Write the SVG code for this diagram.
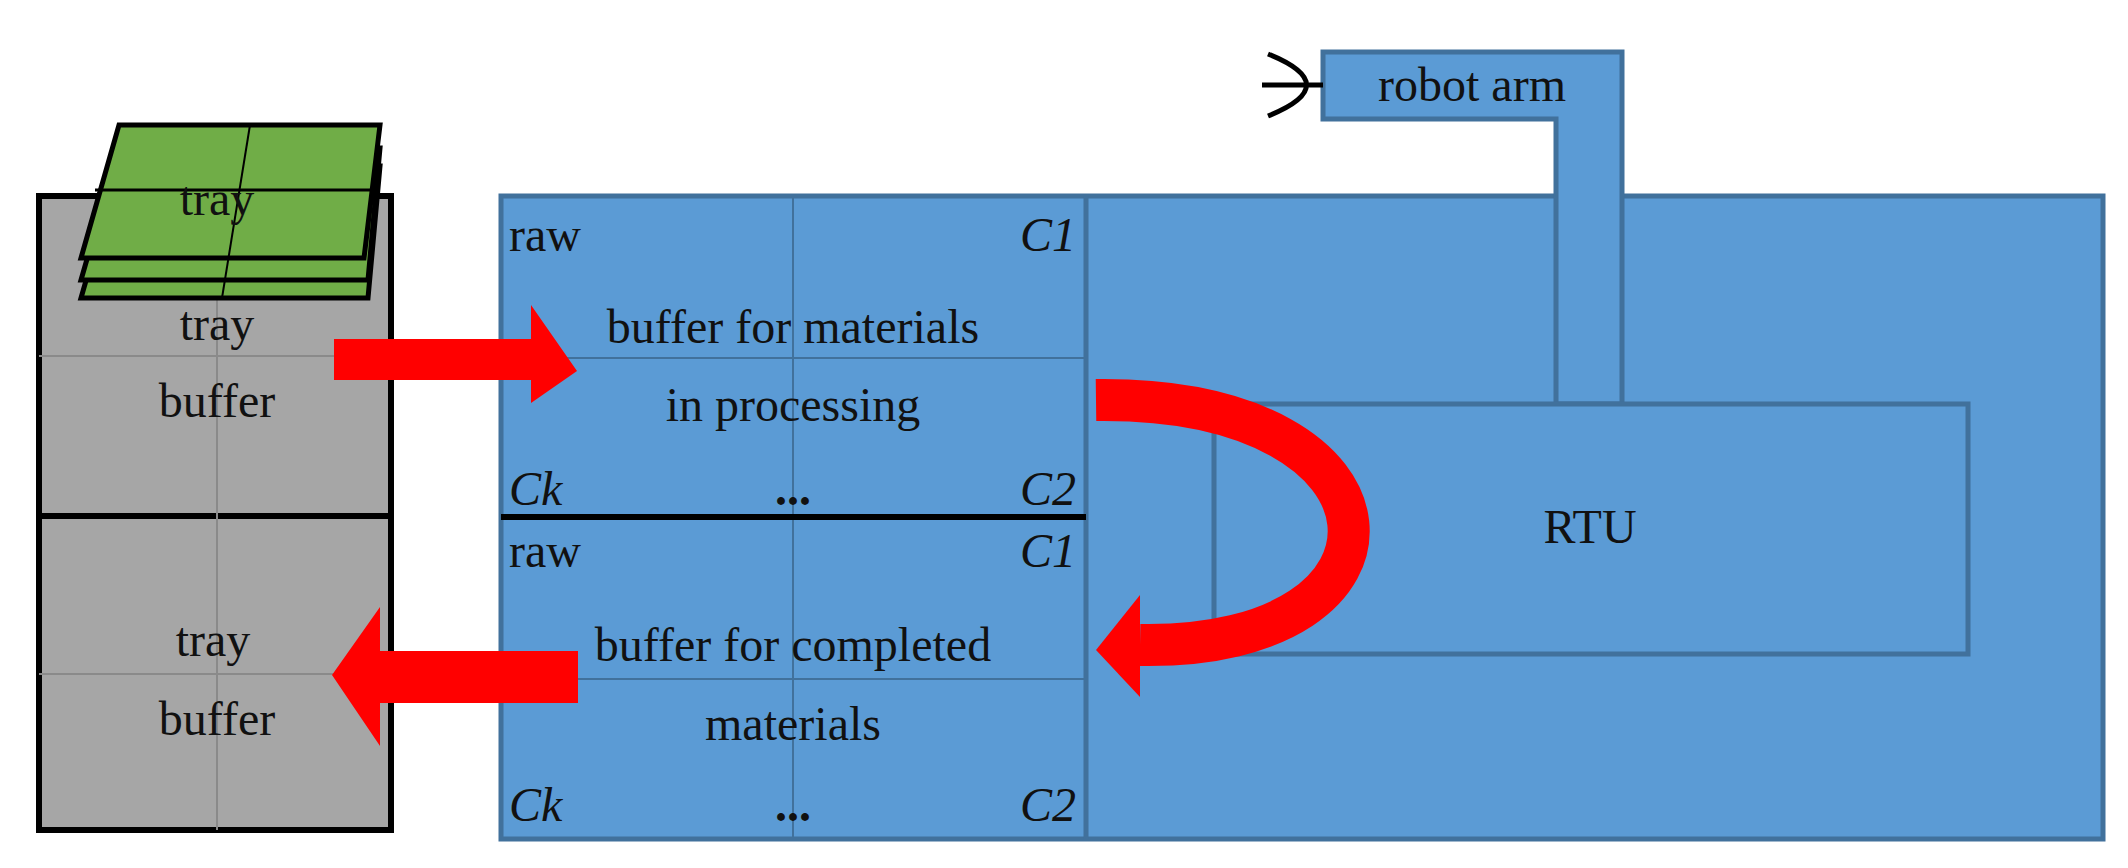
<svg xmlns="http://www.w3.org/2000/svg" width="2128" height="868" viewBox="0 0 2128 868">
<style>
.t{font-family:"Liberation Serif",serif;font-size:48px;fill:#111}
.i{font-style:italic}
.blue{fill:#5b9bd5;stroke:#41719c;stroke-width:5}
.thin{stroke:#8a8a8a;stroke-width:2}
.bthin{stroke:#41719c;stroke-width:2}
.tray{fill:#70ad47;stroke:#000;stroke-width:5}
.red{fill:#ff0000}
</style>
<rect width="2128" height="868" fill="#fff"/>
<g id="tray-buffer">
<rect x="39" y="196" width="352" height="634" fill="#a6a6a6" stroke="#000" stroke-width="6"/>
<line x1="39" y1="516" x2="391" y2="516" stroke="#000" stroke-width="6"/>
<line class="thin" x1="217" y1="196" x2="217" y2="830"/>
<line class="thin" x1="39" y1="356" x2="391" y2="356"/>
<line class="thin" x1="39" y1="674" x2="391" y2="674"/>
<text class="t" x="217" y="340" text-anchor="middle">tray</text>
<text class="t" x="217" y="417" text-anchor="middle">buffer</text>
<text class="t" x="213" y="656" text-anchor="middle">tray</text>
<text class="t" x="217" y="735" text-anchor="middle">buffer</text>
</g>
<g id="trays">
<polygon class="tray" points="119,166 380,166 368,298 81,298"/>
<polygon class="tray" points="119,148 380,148 368,280 81,280"/>
<polygon class="tray" points="119,125 380,125 364,258 81,258"/>
<line x1="250" y1="125" x2="222" y2="298" stroke="#000" stroke-width="2"/>
<line x1="95" y1="190" x2="372" y2="190" stroke="#000" stroke-width="3"/>
<text class="t" x="217" y="215" text-anchor="middle">tray</text>
</g>
<g id="main">
<rect class="blue" x="501" y="196" width="1602" height="643"/>
<line x1="1086" y1="196" x2="1086" y2="839" stroke="#41719c" stroke-width="5"/>
<line class="bthin" x1="793" y1="196" x2="793" y2="839"/>
<line class="bthin" x1="501" y1="358" x2="1086" y2="358"/>
<line class="bthin" x1="501" y1="679" x2="1086" y2="679"/>
<line x1="501" y1="517" x2="1086" y2="517" stroke="#000" stroke-width="6"/>
<text class="t" x="509" y="251">raw</text>
<text class="t i" x="1076" y="251" text-anchor="end">C1</text>
<text class="t" x="793" y="343" text-anchor="middle">buffer for materials</text>
<text class="t" x="793" y="421" text-anchor="middle">in processing</text>
<text class="t i" x="509" y="505">Ck</text>
<text class="t" x="793" y="505" text-anchor="middle" font-weight="bold">...</text>
<text class="t i" x="1076" y="505" text-anchor="end">C2</text>
<text class="t" x="509" y="567">raw</text>
<text class="t i" x="1076" y="567" text-anchor="end">C1</text>
<text class="t" x="793" y="661" text-anchor="middle">buffer for completed</text>
<text class="t" x="793" y="740" text-anchor="middle">materials</text>
<text class="t i" x="509" y="821">Ck</text>
<text class="t" x="793" y="821" text-anchor="middle" font-weight="bold">...</text>
<text class="t i" x="1076" y="821" text-anchor="end">C2</text>
</g>
<g id="robot-arm">
<path class="blue" d="M1323,52 H1622 V404 H1556 V119 H1323 Z"/>
<text class="t" x="1472" y="101" text-anchor="middle">robot arm</text>
<path d="M1262,85 H1323 M1268,54 Q1345,85 1268,116" fill="none" stroke="#000" stroke-width="5"/>
</g>
<g id="rtu">
<rect class="blue" x="1214" y="404" width="754" height="250"/>
<text class="t" x="1590" y="543" text-anchor="middle" font-size="52">RTU</text>
</g>
<g id="connectors">
<polygon class="red" points="334,339 531,339 531,305 577,371 531,403 531,380 334,380"/>
<polygon class="red" points="578,651 380,651 380,607 332,675 380,746 380,703 578,703"/>
<path d="M1096,400 C1420,396 1430,650 1140,645" fill="none" stroke="#ff0000" stroke-width="42"/>
<polygon class="red" points="1096,650 1140,595 1140,697"/>
</g>
</svg>
